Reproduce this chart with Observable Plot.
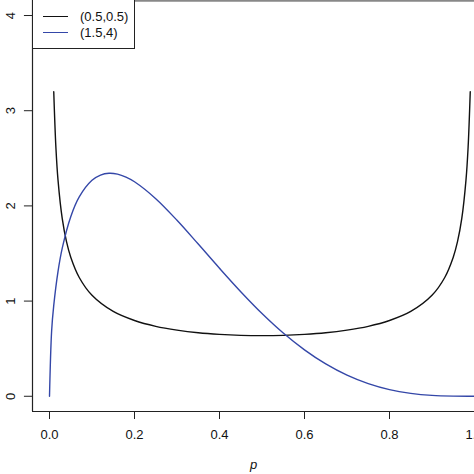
<!DOCTYPE html>
<html>
<head>
<meta charset="utf-8">
<script src="https://cdn.jsdelivr.net/npm/d3@7"></script>
<script src="https://cdn.jsdelivr.net/npm/@observablehq/plot@0.6"></script>
<style>
  html, body { margin: 0; padding: 0; background: #fff; overflow: hidden; }
  #wrap { position: relative; width: 474px; height: 474px; font-family: "Liberation Sans", Arial, sans-serif; }
  #legend { position: absolute; left: 32px; top: -1px; width: 101px; height: 48px; border: 1px solid #222; background: #fff; }
  .li { position: absolute; left: 10px; height: 16px; display: flex; align-items: center; font-size: 13px; color: #111; }
  .li span.sw { display: inline-block; width: 25px; height: 0; border-top: 1.4px solid; margin-right: 12px; }
</style>
</head>
<body>
<div id="wrap"></div>
<script>
// Beta(0.5,0.5) density
const pA = [0.01, 0.015, 0.02, 0.03, 0.04, 0.05, 0.07, 0.1, 0.15, 0.2, 0.25, 0.3, 0.35, 0.4, 0.45, 0.5,
            0.55, 0.6, 0.65, 0.7, 0.75, 0.8, 0.85, 0.9, 0.93, 0.95, 0.96, 0.97, 0.98, 0.985, 0.99];
const yA = [3.199, 2.619, 2.274, 1.866, 1.624, 1.461, 1.248, 1.061, 0.891, 0.796, 0.735, 0.695, 0.667, 0.650, 0.640, 0.637,
            0.640, 0.650, 0.667, 0.695, 0.735, 0.796, 0.891, 1.061, 1.248, 1.461, 1.624, 1.866, 2.274, 2.619, 3.199];
// Beta(1.5,4) density
const pB = [0, 0.005, 0.01, 0.02, 0.03, 0.05, 0.07, 0.1, 0.12, 0.14, 0.16, 0.18, 0.2, 0.25, 0.3, 0.35, 0.4, 0.45,
            0.5, 0.55, 0.6, 0.65, 0.7, 0.75, 0.8, 0.85, 0.9, 0.95, 1];
const yB = [0, 0.686, 0.955, 1.310, 1.556, 1.887, 2.095, 2.269, 2.324, 2.343, 2.334, 2.303, 2.254, 2.076, 1.849, 1.599, 1.345, 1.099,
            0.870, 0.665, 0.488, 0.340, 0.222, 0.133, 0.070, 0.031, 0.009, 0.001, 0];
const seriesNames = ["(0.5,0.5)", "(1.5,4)"];
const seriesColors = ["#111111", "#3447a8"];
const xTicks = [0, 0.2, 0.4, 0.6, 0.8, 1];
const yTicks = [0, 1, 2, 3, 4];
const xLabel = "p";

const dataA = pA.map((p, i) => ({p, y: yA[i]}));
const dataB = pB.map((p, i) => ({p, y: yB[i]}));

const chart = Plot.plot({
  width: 474, height: 474,
  marginLeft: 32, marginRight: 0, marginTop: 0, marginBottom: 63,
  style: {fontFamily: "'Liberation Sans', Arial, sans-serif", fontSize: "13px", color: "#111", background: "#fff"},
  x: {domain: [-0.04, 1.04], range: [32, 491]},
  y: {domain: [-0.16, 4.16], range: [411, -0.2], axis: null},
  marks: [
    Plot.ruleX([-0.04], {y1: -0.16, y2: 4.16, stroke: "#222", strokeWidth: 1.2}),
    Plot.ruleY([-0.16], {x1: -0.04, x2: 1.04, stroke: "#222", strokeWidth: 1.2}),
    Plot.ruleY([4.16], {x1: -0.04, x2: 1.04, stroke: "#888", strokeWidth: 3}),
    Plot.axisX({ticks: xTicks, tickFormat: d3.format(".1f"), tickSize: 8, tickPadding: 10, label: null, stroke: "#222", fontSize: 13}),
    Plot.ruleY(yTicks, {x1: -0.059, x2: -0.04, stroke: "#222"}),
    Plot.text(yTicks, {y: d => d, text: d => String(d), frameAnchor: "left", dx: -22, rotate: -90, textAnchor: "middle", lineAnchor: "middle", fontSize: 13, fill: "#111"}),
    Plot.text([xLabel], {text: d => d, frameAnchor: "bottom", dy: 57, fontStyle: "italic", fontSize: 13, fill: "#111"}),
    Plot.line(dataA, {x: "p", y: "y", stroke: seriesColors[0], strokeWidth: 1.4, curve: "catmull-rom"}),
    Plot.line(dataB, {x: "p", y: "y", stroke: seriesColors[1], strokeWidth: 1.4, curve: "catmull-rom"})
  ]
});
const wrap = document.getElementById("wrap");
wrap.appendChild(chart);
const legend = document.createElement("div");
legend.id = "legend";
seriesNames.forEach((name, i) => {
  const row = document.createElement("div");
  row.className = "li";
  row.style.top = (8 + i * 16) + "px";
  row.innerHTML = `<span class="sw" style="border-color:${seriesColors[i]}"></span>${name}`;
  legend.appendChild(row);
});
wrap.appendChild(legend);
</script>
</body>
</html>
